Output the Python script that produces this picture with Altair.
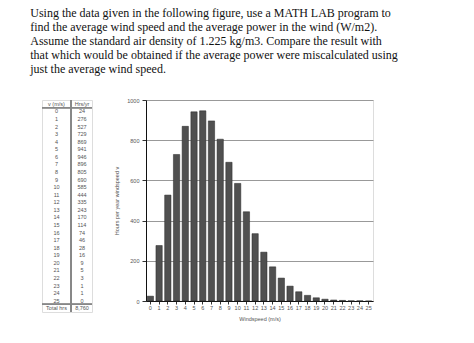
import altair as alt
import pandas as pd

# Wind speed distribution: hours per year at each wind speed (m/s)
speeds = list(range(26))
hours = [24, 276, 527, 729, 869, 941, 946, 896, 805, 690, 585, 444, 335,
         243, 170, 114, 74, 46, 28, 16, 9, 5, 3, 1, 1, 0]
total_label = "8,760"

question = [
    "Using the data given in the following figure, use a MATH LAB program to",
    "find the average wind speed and the average power in the wind (W/m2).",
    "Assume the standard air density of 1.225 kg/m3. Compare the result with",
    "that which would be obtained if the average power were miscalculated using",
    "just the average wind speed.",
]

LABEL_FONT = "Liberation Sans"
GREY_TEXT = "#555555"

# ---- table of values ----
col_v = ["v (m/s)"] + [str(s) for s in speeds] + ["Total hrs"]
col_h = ["Hrs/yr"] + [f"{h:,}" for h in hours] + [total_label]
table_df = pd.DataFrame({"row": list(range(len(col_v))), "v": col_v, "h": col_h})

TW, TH = 50, 212
row_h = TH / len(col_v)

ybase = alt.Y("row:O", axis=None, scale=alt.Scale(paddingInner=0, paddingOuter=0))
base_t = alt.Chart(table_df).encode(y=ybase)
txt_v = base_t.mark_text(font=LABEL_FONT, fontSize=5.5, color=GREY_TEXT).encode(
    x=alt.value(14.5), text="v:N")
txt_h = base_t.mark_text(font=LABEL_FONT, fontSize=5.5, color=GREY_TEXT).encode(
    x=alt.value(40), text="h:N")
sep_v = alt.Chart(table_df).mark_rule(color="#888888", strokeWidth=0.8).encode(
    x=alt.value(29), y=alt.value(0), y2=alt.value(TH))
sep_top = alt.Chart(table_df).mark_rule(color="#888888", strokeWidth=0.8).encode(
    x=alt.value(0), x2=alt.value(TW), y=alt.value(row_h))
sep_bot = alt.Chart(table_df).mark_rule(color="#888888", strokeWidth=0.8).encode(
    x=alt.value(0), x2=alt.value(TW), y=alt.value(TH - row_h))
table = alt.layer(sep_v, sep_top, sep_bot, txt_v, txt_h).properties(width=TW, height=TH)

# blank strip that indents the table from the question text
spacer = alt.Chart(table_df).mark_point(opacity=0).properties(
    width=1, height=TH, view=alt.ViewBackground(stroke="transparent"))

# ---- bar chart ----
bar_df = pd.DataFrame({"speed": speeds, "hours": hours})
bars = alt.Chart(bar_df).mark_bar(
    color="#505050", stroke="#262626", strokeWidth=0.5
).encode(
    x=alt.X("speed:O", title="Windspeed (m/s)",
            scale=alt.Scale(paddingInner=0.28, paddingOuter=0.14),
            axis=alt.Axis(labelAngle=0, labelFont=LABEL_FONT, labelFontSize=5.5,
                          labelColor=GREY_TEXT, tickSize=3, tickColor="#333333",
                          domainColor="#111111", titleFont=LABEL_FONT,
                          titleFontSize=5.5, titleFontWeight="normal",
                          titleColor=GREY_TEXT, titlePadding=6, labelPadding=1)),
    y=alt.Y("hours:Q", title="Hours per year windspeed v",
            scale=alt.Scale(domain=[0, 1000], nice=False),
            axis=alt.Axis(values=[0, 200, 400, 600, 800, 1000], format="d",
                          grid=True, gridColor="#999999", gridWidth=1,
                          labelFont=LABEL_FONT, labelFontSize=5.5,
                          labelColor=GREY_TEXT, tickSize=4, tickColor="#333333",
                          domainColor="#111111", titleFont=LABEL_FONT,
                          titleFontSize=5.5, titleFontWeight="normal",
                          titleColor=GREY_TEXT, titlePadding=7, labelPadding=3)),
).properties(width=227, height=201)

inner = alt.hconcat(table, bars, spacing=54, bounds="flush")
chart = alt.hconcat(spacer, inner, spacing=8, bounds="flush").properties(
    title=alt.TitleParams(
        text=question, anchor="start", font="Liberation Serif",
        fontSize=12, fontWeight="normal", color="#111111", lineHeight=14,
        offset=22),
    padding={"left": 30, "top": 6, "right": 0, "bottom": 0},
).configure_view(stroke="#999999", strokeWidth=1).configure(background="white")

chart.save("out.html", embed_options={"renderer": "svg", "actions": False})
